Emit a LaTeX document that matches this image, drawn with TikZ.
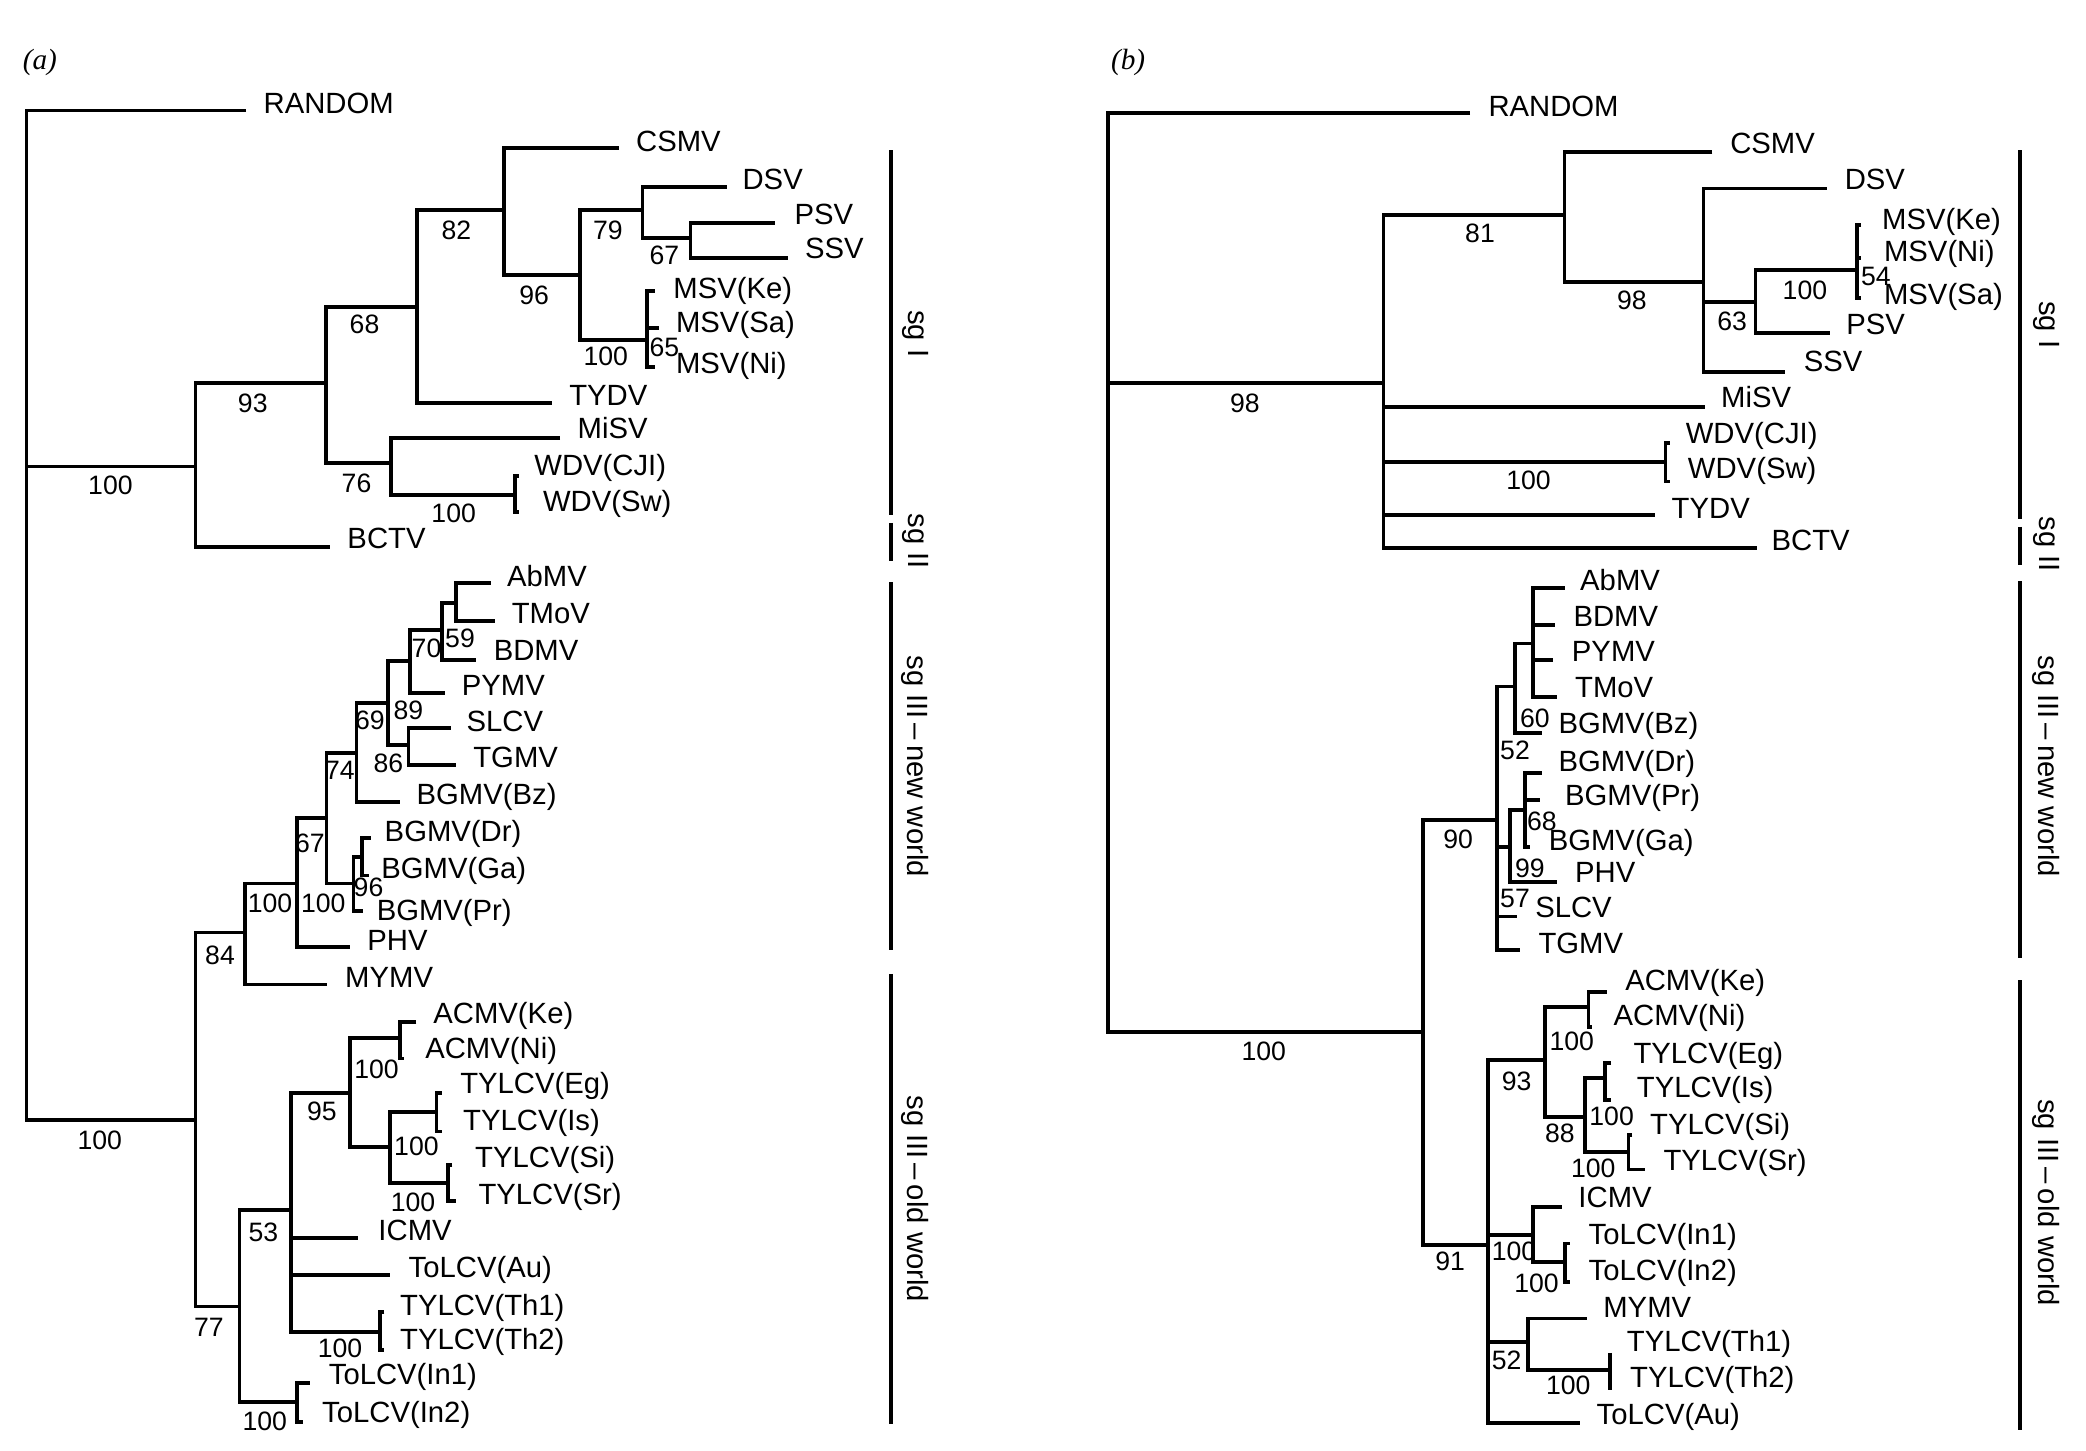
\documentclass[tikz,border=0pt]{standalone}
\usepackage{fontspec}
\setmainfont{Liberation Sans}
\newfontfamily\pserif{Liberation Serif}
\newcounter{nc}
\tikzset{
  br/.style={line width=2.8pt, line cap=butt, line join=miter},
  bar/.style={line width=3pt},
  leaf/.style={anchor=west, inner sep=0pt, font=\fontsize{22}{22}\selectfont, text height=0.72em, text depth=0.2em},
  num/.style={inner sep=0pt, font=\fontsize{20}{20}\selectfont},
  grp/.style={rotate=-90, inner sep=0pt, font=\fontsize{22}{22}\selectfont},
  pan/.style={inner sep=0pt, font=\pserif\itshape\fontsize{22}{22}\selectfont}
}
\newcommand\lf[4]{\node[leaf] (#1) at (#2,#3) {#4};}
\newcommand\sv[3]{\stepcounter{nc}\node[num] (s\arabic{nc}) at (#1,#2) {#3};}
\begin{document}
\begin{tikzpicture}[x=1pt,y=-1pt]
\useasboundingbox (0,0) rectangle (1568,1090);
\node[pan] (pa) at (30,47) {(a)};
\node[pan] (pb) at (848,47) {(b)};
% ================= tree (a) =================
\draw[br] (185,83) -- (20,83) -- (20,842) -- (147,842);
\draw[br] (20,350.6) -- (147,350.6);
\draw[br] (245,288) -- (147,288) -- (147,411) -- (248,411);
\draw[br] (313.6,230.5) -- (245,230.5) -- (245,348) -- (294,348);
\draw[br] (378.8,157.8) -- (313.6,157.8) -- (313.6,303) -- (414.6,303);
\draw[br] (465,111.4) -- (378.8,111.4) -- (378.8,206.7) -- (435.8,206.7);
\draw[br] (483,157.8) -- (435.8,157.8) -- (435.8,255.6) -- (486.3,255.6);
\draw[br] (546.4,140.3) -- (483,140.3) -- (483,179) -- (519,179);
\draw[br] (582.5,167.8) -- (519,167.8) -- (519,194) -- (592.3,194);
\draw[br] (492,219) -- (486.3,219) -- (486.3,275.6) -- (492,275.6);
\draw[br] (486.3,246.6) -- (495,246.6);
\draw[br] (421,329) -- (294,329) -- (294,372) -- (387,372);
\draw[br] (390,357.8) -- (387,357.8) -- (387,384.6) -- (390,384.6);
\draw[br] (184,701) -- (147,701) -- (147,982) -- (180,982);
\draw[br] (223,664) -- (184,664) -- (184,740) -- (245.5,740);
\draw[br] (245.5,615) -- (223,615) -- (223,712) -- (263,712);
\draw[br] (268,566) -- (245.5,566) -- (245.5,664) -- (265.7,664);
\draw[br] (272,644) -- (265.7,644) -- (265.7,685) -- (273,685);
\draw[br] (278.5,630) -- (272,630) -- (272,658) -- (277,658);
\draw[br] (291.8,528.6) -- (268,528.6) -- (268,602.6) -- (300.6,602.6);
\draw[br] (308,497) -- (291.8,497) -- (291.8,560) -- (307,560);
\draw[br] (332,473.5) -- (308,473.5) -- (308,521) -- (334.5,521);
\draw[br] (339,547) -- (307,547) -- (307,575) -- (343,575);
\draw[br] (343,453) -- (332,453) -- (332,496) -- (358,496);
\draw[br] (369,438.4) -- (343,438.4) -- (343,467) -- (372,467);
\draw[br] (219,909.5) -- (180,909.5) -- (180,1053.6) -- (223,1053.6);
\draw[br] (263,821.8) -- (219,821.8) -- (219,1001) -- (285.6,1001);
\draw[br] (219,930.6) -- (269.4,930.6);
\draw[br] (219,958.4) -- (293,958.4);
\draw[br] (289,986) -- (285.6,986) -- (285.6,1014.7) -- (289,1014.7);
\draw[br] (233,1039.7) -- (223,1039.7) -- (223,1068.6) -- (228,1068.6);
\draw[br] (300.6,780) -- (263,780) -- (263,862) -- (293,862);
\draw[br] (313,768) -- (300.6,768) -- (300.6,795.6) -- (304,795.6);
\draw[br] (328.2,835.6) -- (293,835.6) -- (293,889) -- (337,889);
\draw[br] (332,821.8) -- (328.2,821.8) -- (328.2,850.6) -- (332,850.6);
\draw[br] (340,875.5) -- (337,875.5) -- (337,903) -- (343,903);
% leaves (a)
\lf{aRAN}{198}{83}{RANDOM}
\lf{aCSMV}{478}{111}{CSMV}
\lf{aDSV}{558}{140}{DSV}
\lf{aPSV}{597}{166}{PSV}
\lf{aSSV}{605}{192}{SSV}
\lf{aMKe}{506}{222}{MSV(Ke)}
\lf{aMSa}{508}{247}{MSV(Sa)}
\lf{aMNi}{508}{278}{MSV(Ni)}
\lf{aTYDV}{427.7}{302}{TYDV}
\lf{aMiSV}{434}{327}{MiSV}
\lf{aWC}{401.5}{355}{WDV(CJI)}
\lf{aWS}{408}{382}{WDV(Sw)}
\lf{aBCTV}{261}{410}{BCTV}
\lf{aAb}{381}{438}{AbMV}
\lf{aTM}{384.5}{466}{TMoV}
\lf{aBD}{371}{494}{BDMV}
\lf{aPY}{347}{520}{PYMV}
\lf{aSL}{350.6}{547}{SLCV}
\lf{aTG}{355.6}{574}{TGMV}
\lf{aBz}{313}{602}{BGMV(Bz)}
\lf{aDr}{289}{630}{BGMV(Dr)}
\lf{aGa}{286.5}{658}{BGMV(Ga)}
\lf{aPr}{283}{689}{BGMV(Pr)}
\lf{aPHV}{276}{712}{PHV}
\lf{aMY}{259.3}{740}{MYMV}
\lf{aAK}{325.6}{767}{ACMV(Ke)}
\lf{aAN}{319.5}{793}{ACMV(Ni)}
\lf{aEg}{345.8}{819}{TYLCV(Eg)}
\lf{aIs}{348}{847}{TYLCV(Is)}
\lf{aSi}{357}{875}{TYLCV(Si)}
\lf{aSr}{359.5}{903}{TYLCV(Sr)}
\lf{aIC}{284.3}{930}{ICMV}
\lf{aAu}{307}{958}{ToLCV(Au)}
\lf{aT1}{300.6}{986}{TYLCV(Th1)}
\lf{aT2}{300.6}{1012}{TYLCV(Th2)}
\lf{aI1}{247}{1038}{ToLCV(In1)}
\lf{aI2}{242}{1067}{ToLCV(In2)}
% supports (a)
\sv{83}{365}{100}\sv{75}{857}{100}\sv{190}{303}{93}\sv{274}{244}{68}\sv{268}{363}{76}
\sv{343}{173}{82}\sv{401.5}{222}{96}\sv{457}{173}{79}\sv{455.4}{268}{100}\sv{499.4}{192}{67}
\sv{499.4}{261}{65}\sv{341}{386}{100}
\sv{165.4}{718}{84}\sv{157}{998}{77}\sv{203}{679}{100}\sv{233}{634}{67}\sv{243}{679}{100}
\sv{255.5}{579}{74}\sv{277}{667}{96}\sv{278}{541.5}{69}\sv{307}{533.6}{89}\sv{292}{574}{86}
\sv{320.6}{487}{70}\sv{345.8}{480}{59}
\sv{198}{926.5}{53}\sv{242}{835.6}{95}\sv{255.6}{1013.5}{100}\sv{199}{1068}{100}\sv{283}{804}{100}
\sv{313}{862}{100}\sv{310.5}{903.4}{100}
% group bars (a)
\draw[bar] (670,113) -- (670,387);
\draw[bar] (670,393) -- (670,422);
\draw[bar] (670,437.6) -- (670,714);
\draw[bar] (670,732) -- (670,1070);
\node[grp] (ga1) at (688,251) {sg I};
\node[grp] (ga2) at (688,407) {sg II};
\node[grp] (ga3) at (688,576) {sg III\,--\,new world};
\node[grp] (ga4) at (688,901) {sg III\,--\,old world};
% ================= tree (b) =================
\draw[br] (1105,85.2) -- (833,85.2) -- (833,775.5) -- (1069.8,775.5);
\draw[br] (833,288.1) -- (1040,288.1);
\draw[br] (1176,161.6) -- (1040,161.6) -- (1040,412) -- (1320.7,412);
\draw[br] (1040,305.7) -- (1281.6,305.7);
\draw[br] (1040,347) -- (1252,347);
\draw[br] (1040,387) -- (1244,387);
\draw[br] (1255,333.2) -- (1252,333.2) -- (1252,361.9) -- (1255,361.9);
\draw[br] (1287.2,114) -- (1176,114) -- (1176,211.7) -- (1280.5,211.7);
\draw[br] (1373,141.6) -- (1280.5,141.6) -- (1280.5,279.4) -- (1342,279.4);
\draw[br] (1280.5,226.8) -- (1319.5,226.8);
\draw[br] (1396,203) -- (1319.5,203) -- (1319.5,250.4) -- (1375.6,250.4);
\draw[br] (1399,169) -- (1396,169) -- (1396,224) -- (1399,224);
\draw[br] (1396,194) -- (1399,194);
\draw[br] (1125,616.4) -- (1069.8,616.4) -- (1069.8,935.8) -- (1118.7,935.8);
\draw[br] (1138.8,516.1) -- (1125,516.1) -- (1125,714) -- (1142.5,714);
\draw[br] (1125,636.4) -- (1135,636.4);
\draw[br] (1125,689) -- (1140,689);
\draw[br] (1152.5,483.6) -- (1138.8,483.6) -- (1138.8,551.2) -- (1158.8,551.2);
\draw[br] (1176.3,442.2) -- (1152.5,442.2) -- (1152.5,523.7) -- (1170,523.7);
\draw[br] (1152.5,469.8) -- (1168.8,469.8);
\draw[br] (1152.5,496) -- (1167.6,496);
\draw[br] (1146.3,608.8) -- (1135,608.8) -- (1135,662.7) -- (1170,662.7);
\draw[br] (1158.8,581.3) -- (1146.3,581.3) -- (1146.3,636.4) -- (1150,636.4);
\draw[br] (1146.3,601.3) -- (1157.6,601.3);
\draw[br] (1161.3,796.8) -- (1118.7,796.8) -- (1118.7,1069.8) -- (1187.6,1069.8);
\draw[br] (1118.7,928.3) -- (1152.5,928.3);
\draw[br] (1118.7,1008.5) -- (1148.8,1008.5);
\draw[br] (1193.9,756.7) -- (1161.3,756.7) -- (1161.3,839.4) -- (1191.4,839.4);
\draw[br] (1207.7,745.4) -- (1194,745.4) -- (1194,772) -- (1197,772);
\draw[br] (1206.4,810.5) -- (1191.4,810.5) -- (1191.4,865.7) -- (1224,865.7);
\draw[br] (1211,798.9) -- (1206.4,798.9) -- (1206.4,827) -- (1211,827);
\draw[br] (1227,853) -- (1224,853) -- (1224,879) -- (1236.5,879);
\draw[br] (1173.8,907) -- (1152.5,907) -- (1152.5,948.4) -- (1176.3,948.4);
\draw[br] (1180,934.6) -- (1176.3,934.6) -- (1176.3,963.4) -- (1180,963.4);
\draw[br] (1192.6,991) -- (1148.8,991) -- (1148.8,1029.8) -- (1210,1029.8);
\draw[br] (1210,1017) -- (1210,1044.8);
% leaves (b)
\lf{bRAN}{1118.7}{85}{RANDOM}
\lf{bCSMV}{1300.4}{113}{CSMV}
\lf{bDSV}{1386.5}{140}{DSV}
\lf{bMKe}{1414.6}{170}{MSV(Ke)}
\lf{bMNi}{1416}{194}{MSV(Ni)}
\lf{bMSa}{1416}{226}{MSV(Sa)}
\lf{bPSV}{1387.6}{249}{PSV}
\lf{bSSV}{1355.7}{277}{SSV}
\lf{bMiSV}{1293.6}{304}{MiSV}
\lf{bWC}{1267}{331}{WDV(CJI)}
\lf{bWS}{1268.6}{357}{WDV(Sw)}
\lf{bTYDV}{1256.4}{387}{TYDV}
\lf{bBCTV}{1331.5}{411}{BCTV}
\lf{bAb}{1187.6}{441}{AbMV}
\lf{bBD}{1182.6}{468}{BDMV}
\lf{bPY}{1181.4}{495}{PYMV}
\lf{bTM}{1183.8}{522}{TMoV}
\lf{bBz}{1171.3}{549}{BGMV(Bz)}
\lf{bDr}{1171.3}{577}{BGMV(Dr)}
\lf{bPr}{1176.3}{603}{BGMV(Pr)}
\lf{bGa}{1164}{637}{BGMV(Ga)}
\lf{bPHV}{1183.8}{661}{PHV}
\lf{bSL}{1153.8}{687}{SLCV}
\lf{bTG}{1156.3}{714}{TGMV}
\lf{bAK}{1221.5}{742}{ACMV(Ke)}
\lf{bAN}{1212.7}{768}{ACMV(Ni)}
\lf{bEg}{1227.7}{797}{TYLCV(Eg)}
\lf{bIs}{1230.2}{822}{TYLCV(Is)}
\lf{bSi}{1240.2}{850}{TYLCV(Si)}
\lf{bSr}{1250.2}{877}{TYLCV(Sr)}
\lf{bIC}{1186.3}{905}{ICMV}
\lf{bI1}{1194}{933}{ToLCV(In1)}
\lf{bI2}{1194}{960}{ToLCV(In2)}
\lf{bMY}{1205}{988}{MYMV}
\lf{bT1}{1222.7}{1013}{TYLCV(Th1)}
\lf{bT2}{1225.2}{1040}{TYLCV(Th2)}
\lf{bAu}{1200}{1068}{ToLCV(Au)}
% supports (b)
\sv{935.8}{303}{98}\sv{950}{790}{100}\sv{1112.5}{175.4}{81}\sv{1149}{361}{100}
\sv{1226.7}{225.5}{98}\sv{1302}{241.8}{63}\sv{1356.7}{218}{100}\sv{1410}{208}{54}
\sv{1096}{631}{90}\sv{1138.8}{563.7}{52}\sv{1138.8}{675.2}{57}\sv{1153.8}{540}{60}
\sv{1150}{652.7}{99}\sv{1159}{617}{68}
\sv{1090}{948.4}{91}\sv{1140}{813}{93}\sv{1138}{940.8}{100}\sv{1132.5}{1022.3}{52}
\sv{1181.4}{783}{100}\sv{1172.6}{851.9}{88}\sv{1211.4}{839.4}{100}\sv{1197.6}{878.2}{100}
\sv{1155}{964.6}{100}\sv{1178.8}{1041}{100}
% group bars (b)
\draw[bar] (1518,113) -- (1518,390);
\draw[bar] (1518,396) -- (1518,425);
\draw[bar] (1518,437) -- (1518,720);
\draw[bar] (1518,737) -- (1518,1075);
\node[grp] (gb1) at (1538,244) {sg I};
\node[grp] (gb2) at (1538,409) {sg II};
\node[grp] (gb3) at (1538,576) {sg III\,--\,new world};
\node[grp] (gb4) at (1538,904) {sg III\,--\,old world};
\end{tikzpicture}
\end{document}
